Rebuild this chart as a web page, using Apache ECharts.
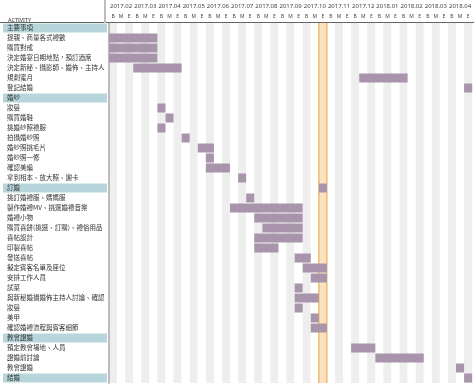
<!DOCTYPE html>
<html>
<head>
<meta charset="utf-8">
<script src="https://cdn.jsdelivr.net/npm/echarts@6/dist/echarts.min.js"></script>
<style>html,body{margin:0;padding:0;background:#fff;}#c{width:474px;height:385px;}</style>
</head>
<body>
<div id="c"></div>
<script>
const months = ['2017.02','2017.03','2017.04','2017.05','2017.06','2017.07','2017.08','2017.09','2017.10','2017.11','2017.12','2018.01','2018.02','2018.03','2018.04'];
const phases = ['B','M','E'];
const rowLabels = [
  '主要事項',
  '提親、商量各式禮數',
  '購買對戒',
  '決定婚宴日期地點，預訂酒席',
  '決定新秘、攝影師、婚佈、主持人',
  '規劃蜜月',
  '登記結婚',
  '婚紗',
  '妝髮',
  '購買婚鞋',
  '挑婚紗照禮服',
  '拍攝婚紗照',
  '婚紗照挑毛片',
  '婚紗照一修',
  '確認美編',
  '拿到相本、放大照、謝卡',
  '訂婚',
  '挑訂婚禮服、媽媽服',
  '製作婚禮MV、挑選婚禮音樂',
  '婚禮小物',
  '購買喜餅(挑選、訂購)、禮俗用品',
  '喜帖設計',
  '印製喜帖',
  '發送喜帖',
  '擬定賓客名單及座位',
  '安排工作人員',
  '試菜',
  '與新秘婚攝婚佈主持人討論、確認',
  '妝髮',
  '美甲',
  '確認婚禮流程與賓客細節',
  '教會證婚',
  '預定教會場地、人員',
  '證婚前討論',
  '教會證婚',
  '結婚'
];
const sectionRows = [0, 7, 16, 31, 35];
// bars: row index, start column (month*3 + phase), length in columns
const barRow   = [1, 2, 3, 4, 5, 6, 8, 9, 10, 11, 12, 13, 14, 15, 16, 17, 18, 19, 20, 21, 22, 23, 24, 25, 26, 27, 28, 29, 30, 32, 33, 34, 35];
const barStart = [0, 0, 0, 3, 31, 44, 6, 7, 6, 9, 11, 12, 12, 16, 26, 17, 15, 18, 19, 18, 18, 23, 24, 25, 23, 23, 23, 25, 25, 30, 33, 43, 44];
const barSpan  = [6, 6, 6, 6, 6, 1, 1, 1, 1, 1, 2, 1, 3, 1, 1, 1, 9, 6, 5, 6, 3, 2, 3, 2, 1, 3, 1, 1, 2, 3, 6, 1, 1];
const highlightCol = [26];

const phaseKeys = [];
months.forEach(m => phases.forEach(p => phaseKeys.push(m + '|' + p)));
const barData = barRow.map((r, i) => [barStart[i], r, barSpan[i]]);
const sectionSet = new Set(sectionRows);

const chart = echarts.init(document.getElementById('c'), null, {renderer: 'canvas'});
chart.setOption({
  animation: false,
  title: {text: 'ACTIVITY', left: 3, top: 12, textStyle: {fontSize: 5.5, fontWeight: 'normal', color: '#333', fontFamily: 'Noto Sans'}},
  grid: {left: 106, right: 0, top: 23, bottom: 2},
  xAxis: [
    {type: 'value', min: 0, max: 45, interval: 1, position: 'top',
     axisLabel: {show: false}, axisTick: {show: false}, axisLine: {show: false}, splitLine: {show: false},
     splitArea: {show: true, areaStyle: {color: ['#eeeeee', '#ffffff']}}},
    {type: 'category', data: phaseKeys, position: 'top', boundaryGap: true,
     axisLine: {show: false}, axisTick: {show: false},
     axisLabel: {interval: 0, margin: 4, fontSize: 5, color: '#444', fontFamily: 'Noto Sans', formatter: v => v.split('|')[1]}},
    {type: 'category', data: months, position: 'top', offset: 10, boundaryGap: true,
     axisLine: {show: false}, axisTick: {show: false},
     axisLabel: {interval: 0, margin: 4, fontSize: 6, color: '#444', fontFamily: 'Noto Sans'}}
  ],
  yAxis: {
    type: 'category', data: rowLabels, inverse: true,
    axisTick: {show: false},
    axisLine: {show: true, lineStyle: {color: '#bdbdbd', width: 2}},
    splitLine: {show: true, lineStyle: {color: '#ffffff', width: 1}},
    axisLabel: {
      interval: 0, align: 'left', margin: 106,
      formatter: (v, i) => sectionSet.has(i) ? '{sec|' + v + '}' : '{nor|' + v + '}',
      rich: {
        sec: {backgroundColor: '#b6d6db', width: 100, height: 9, lineHeight: 9, padding: [0, 0, 0, 4], fontSize: 6.5, color: '#333', fontFamily: 'Noto Sans CJK TC'},
        nor: {padding: [0, 0, 0, 4], fontSize: 6.5, color: '#333', fontFamily: 'Noto Sans CJK TC'}
      }
    }
  },
  graphic: [
    {type: 'line', shape: {x1: 0, y1: 22.5, x2: 474, y2: 22.5}, style: {stroke: '#666', lineWidth: 1.2}, z: 100},
    {type: 'line', shape: {x1: 105, y1: 0, x2: 105, y2: 23}, style: {stroke: '#bdbdbd', lineWidth: 2}, z: 100}
  ],
  series: [
    {
      type: 'custom', xAxisIndex: 0, z: 1,
      data: highlightCol.map(c => [c, 0]),
      encode: {x: 0, y: 1},
      renderItem: (params, api) => {
        const cs = params.coordSys;
        const x1 = api.coord([api.value(0), 0])[0];
        const x2 = api.coord([api.value(0) + 1, 0])[0];
        return {type: 'group', children: [
          {type: 'rect', shape: {x: x1, y: cs.y, width: x2 - x1, height: cs.height}, style: {fill: '#fbe1bd'}},
          {type: 'line', shape: {x1: x1, y1: cs.y, x2: x1, y2: cs.y + cs.height}, style: {stroke: '#e6a443', lineWidth: 1}},
          {type: 'line', shape: {x1: x2, y1: cs.y, x2: x2, y2: cs.y + cs.height}, style: {stroke: '#e6a443', lineWidth: 1}}
        ]};
      }
    },
    {
      type: 'custom', xAxisIndex: 0, z: 2,
      data: barData,
      encode: {x: 0, y: 1},
      renderItem: (params, api) => {
        const p1 = api.coord([api.value(0), api.value(1)]);
        const p2 = api.coord([api.value(0) + api.value(2), api.value(1)]);
        const h = api.size([0, 1])[1];
        return {type: 'rect', shape: {x: p1[0], y: p1[1] - h / 2 + 0.5, width: p2[0] - p1[0], height: h - 1}, style: {fill: '#a894ab'}};
      }
    }
  ]
});
</script>
</body>
</html>
